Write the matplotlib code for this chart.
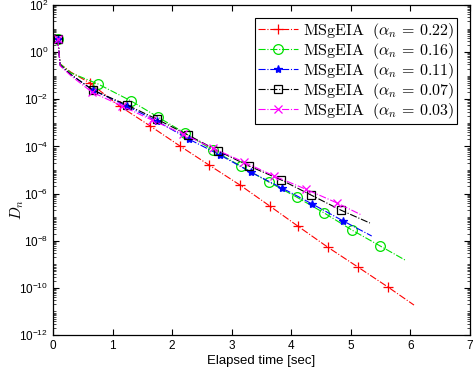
import numpy as np
import matplotlib
matplotlib.use("Agg")
import matplotlib.pyplot as plt
from matplotlib.ticker import LogLocator, NullFormatter, FixedLocator

plt.rcParams['font.family'] = ['Liberation Sans', 'DejaVu Sans']
plt.rcParams['mathtext.fontset'] = 'cm'

alphas = ["0.22", "0.16", "0.11", "0.07", "0.03"]

# time [sec] and log10(D_n) for each series (first two points: initial drop)
t_red = [0.08, 0.12, 0.30, 0.62, 1.12, 1.63, 2.13, 2.62, 3.14, 3.64, 4.11, 4.61, 5.12, 5.62, 6.06]
l_red = [0.56, -0.50, -0.85, -1.31, -2.29, -3.13, -3.98, -4.79, -5.64, -6.53, -7.38, -8.27, -9.12, -9.96, -10.73]

t_green = [0.08, 0.12, 0.30, 0.755, 1.31, 1.76, 2.21, 2.68, 3.15, 3.62, 4.09, 4.55, 5.02, 5.49, 5.91]
l_green = [0.56, -0.50, -0.88, -1.35, -2.07, -2.75, -3.43, -4.15, -4.83, -5.51, -6.15, -6.82, -7.55, -8.22, -8.82]

t_blue = [0.08, 0.12, 0.30, 0.67, 1.24, 1.74, 2.28, 2.80, 3.32, 3.84, 4.35, 4.87, 5.35]
l_blue = [0.56, -0.55, -0.95, -1.61, -2.29, -2.92, -3.69, -4.36, -5.09, -5.76, -6.44, -7.16, -7.80]

t_black = [0.08, 0.12, 0.30, 0.67, 1.24, 1.74, 2.27, 2.77, 3.29, 3.83, 4.33, 4.83, 5.32]
l_black = [0.56, -0.55, -0.95, -1.61, -2.24, -2.84, -3.52, -4.19, -4.83, -5.42, -6.06, -6.70, -7.25]

t_mag = [0.08, 0.12, 0.30, 0.65, 1.16, 1.66, 2.18, 2.68, 3.20, 3.71, 4.24, 4.77, 5.18]
l_mag = [0.56, -0.58, -1.00, -1.69, -2.29, -2.88, -3.47, -4.07, -4.66, -5.25, -5.81, -6.40, -6.91]

series = [
    (t_red, l_red, 'red', '+', 'red', 7),
    (t_green, l_green, '#00e000', 'o', 'none', 7),
    (t_blue, l_blue, 'blue', '*', 'blue', 6),
    (t_black, l_black, 'black', 's', 'none', 6),
    (t_mag, l_mag, 'magenta', 'x', 'magenta', 6),
]

fig = plt.figure(figsize=(4.74, 3.76), dpi=100)
ax = fig.add_axes([53/474, 1-335/376, 417/474, 330/376])

for (t, l, c, m, fc, ms), a in zip(series, alphas):
    t = np.array(t)
    d = 10.0 ** np.array(l)
    n = len(t)
    me = [0] + list(range(3, n - 1))
    ax.plot(t, d, linestyle='-.', color=c, lw=0.8, marker=m, markersize=ms,
            markerfacecolor=fc, markeredgecolor=c, markeredgewidth=0.9,
            markevery=me,
            label=r"$\mathrm{MSgEIA}\ \ (\alpha_n\,=\,%s)$" % a)

ax.set_yscale('log')
ax.set_xlim(0, 7)
ax.set_ylim(1e-12, 1e2)
ax.yaxis.set_major_locator(FixedLocator([10.0**k for k in range(-12, 3, 2)]))
ax.yaxis.set_minor_locator(LogLocator(base=10, subs=np.arange(1, 10), numticks=100))
ax.yaxis.set_minor_formatter(NullFormatter())
ax.set_xticks(range(0, 8))

ax.tick_params(which='both', direction='in', top=True, right=True, labelsize=8.5)
ax.tick_params(which='major', length=4, width=0.8)
ax.tick_params(which='minor', length=2, width=0.5)
for s in ax.spines.values():
    s.set_linewidth(0.9)

ax.set_xlabel("Elapsed time [sec]", fontsize=9.5, labelpad=2)
ax.set_ylabel(r"$D_n$", fontsize=11)
ax.yaxis.set_label_coords(-0.065, 0.38)

leg = ax.legend(loc='upper right', fontsize=11.5, frameon=True, fancybox=False,
                edgecolor='black', framealpha=1, borderaxespad=0.8,
                handlelength=2.5, handletextpad=0.3, labelspacing=0.0,
                borderpad=0.2)
leg.get_frame().set_linewidth(0.8)

fig.savefig("out.png", dpi=100)
